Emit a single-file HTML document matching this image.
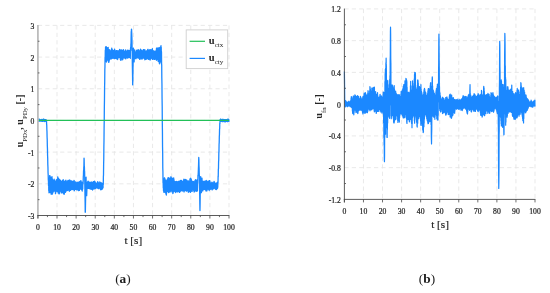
<!DOCTYPE html>
<html><head><meta charset="utf-8"><title>Figure</title>
<style>html,body{margin:0;padding:0;background:#fff;}body{width:550px;height:293px;overflow:hidden;font-family:'Liberation Serif','DejaVu Serif',serif;}svg{display:block}</style>
</head><body>
<svg width="550" height="293" viewBox="0 0 550 293" font-family="'Liberation Serif','DejaVu Serif',serif">
<line x1="57.01" y1="25.4" x2="57.01" y2="215.5" stroke="#e3e3e3" stroke-width="0.8" stroke-dasharray="4.2,3.2"/>
<line x1="76.12" y1="25.4" x2="76.12" y2="215.5" stroke="#e3e3e3" stroke-width="0.8" stroke-dasharray="4.2,3.2"/>
<line x1="95.23" y1="25.4" x2="95.23" y2="215.5" stroke="#e3e3e3" stroke-width="0.8" stroke-dasharray="4.2,3.2"/>
<line x1="114.34" y1="25.4" x2="114.34" y2="215.5" stroke="#e3e3e3" stroke-width="0.8" stroke-dasharray="4.2,3.2"/>
<line x1="133.45" y1="25.4" x2="133.45" y2="215.5" stroke="#e3e3e3" stroke-width="0.8" stroke-dasharray="4.2,3.2"/>
<line x1="152.56" y1="25.4" x2="152.56" y2="215.5" stroke="#e3e3e3" stroke-width="0.8" stroke-dasharray="4.2,3.2"/>
<line x1="171.67" y1="25.4" x2="171.67" y2="215.5" stroke="#e3e3e3" stroke-width="0.8" stroke-dasharray="4.2,3.2"/>
<line x1="190.78" y1="25.4" x2="190.78" y2="215.5" stroke="#e3e3e3" stroke-width="0.8" stroke-dasharray="4.2,3.2"/>
<line x1="209.89" y1="25.4" x2="209.89" y2="215.5" stroke="#e3e3e3" stroke-width="0.8" stroke-dasharray="4.2,3.2"/>
<line x1="229.00" y1="25.4" x2="229.00" y2="215.5" stroke="#e3e3e3" stroke-width="0.8" stroke-dasharray="4.2,3.2"/>
<line x1="37.9" y1="183.82" x2="229.0" y2="183.82" stroke="#e3e3e3" stroke-width="0.8" stroke-dasharray="4.2,3.2"/>
<line x1="37.9" y1="152.13" x2="229.0" y2="152.13" stroke="#e3e3e3" stroke-width="0.8" stroke-dasharray="4.2,3.2"/>
<line x1="37.9" y1="120.45" x2="229.0" y2="120.45" stroke="#e3e3e3" stroke-width="0.8" stroke-dasharray="4.2,3.2"/>
<line x1="37.9" y1="88.77" x2="229.0" y2="88.77" stroke="#e3e3e3" stroke-width="0.8" stroke-dasharray="4.2,3.2"/>
<line x1="37.9" y1="57.08" x2="229.0" y2="57.08" stroke="#e3e3e3" stroke-width="0.8" stroke-dasharray="4.2,3.2"/>
<line x1="37.9" y1="25.40" x2="229.0" y2="25.40" stroke="#e3e3e3" stroke-width="0.8" stroke-dasharray="4.2,3.2"/>
<line x1="363.46" y1="8.9" x2="363.46" y2="199.4" stroke="#e3e3e3" stroke-width="0.8" stroke-dasharray="4.2,3.2"/>
<line x1="382.52" y1="8.9" x2="382.52" y2="199.4" stroke="#e3e3e3" stroke-width="0.8" stroke-dasharray="4.2,3.2"/>
<line x1="401.58" y1="8.9" x2="401.58" y2="199.4" stroke="#e3e3e3" stroke-width="0.8" stroke-dasharray="4.2,3.2"/>
<line x1="420.64" y1="8.9" x2="420.64" y2="199.4" stroke="#e3e3e3" stroke-width="0.8" stroke-dasharray="4.2,3.2"/>
<line x1="439.70" y1="8.9" x2="439.70" y2="199.4" stroke="#e3e3e3" stroke-width="0.8" stroke-dasharray="4.2,3.2"/>
<line x1="458.76" y1="8.9" x2="458.76" y2="199.4" stroke="#e3e3e3" stroke-width="0.8" stroke-dasharray="4.2,3.2"/>
<line x1="477.82" y1="8.9" x2="477.82" y2="199.4" stroke="#e3e3e3" stroke-width="0.8" stroke-dasharray="4.2,3.2"/>
<line x1="496.88" y1="8.9" x2="496.88" y2="199.4" stroke="#e3e3e3" stroke-width="0.8" stroke-dasharray="4.2,3.2"/>
<line x1="515.94" y1="8.9" x2="515.94" y2="199.4" stroke="#e3e3e3" stroke-width="0.8" stroke-dasharray="4.2,3.2"/>
<line x1="535.00" y1="8.9" x2="535.00" y2="199.4" stroke="#e3e3e3" stroke-width="0.8" stroke-dasharray="4.2,3.2"/>
<line x1="344.4" y1="167.65" x2="535.0" y2="167.65" stroke="#e3e3e3" stroke-width="0.8" stroke-dasharray="4.2,3.2"/>
<line x1="344.4" y1="135.90" x2="535.0" y2="135.90" stroke="#e3e3e3" stroke-width="0.8" stroke-dasharray="4.2,3.2"/>
<line x1="344.4" y1="104.15" x2="535.0" y2="104.15" stroke="#e3e3e3" stroke-width="0.8" stroke-dasharray="4.2,3.2"/>
<line x1="344.4" y1="72.40" x2="535.0" y2="72.40" stroke="#e3e3e3" stroke-width="0.8" stroke-dasharray="4.2,3.2"/>
<line x1="344.4" y1="40.65" x2="535.0" y2="40.65" stroke="#e3e3e3" stroke-width="0.8" stroke-dasharray="4.2,3.2"/>
<line x1="344.4" y1="8.90" x2="535.0" y2="8.90" stroke="#e3e3e3" stroke-width="0.8" stroke-dasharray="4.2,3.2"/>
<path d="M37.90,119.61 L38.02,121.10 L38.14,119.56 L38.26,121.21 L38.38,119.42 L38.50,121.38 L38.62,119.41 L38.74,121.47 L38.86,119.42 L38.98,121.21 L39.10,119.47 L39.21,121.05 L39.33,119.47 L39.45,121.06 L39.57,119.52 L39.69,120.99 L39.81,119.75 L39.93,121.00 L40.05,119.77 L40.17,121.02 L40.29,119.78 L40.41,121.05 L40.53,119.81 L40.65,121.06 L40.77,119.78 L40.89,121.01 L41.01,119.75 L41.13,121.01 L41.25,119.57 L41.37,120.97 L41.49,119.43 L41.60,121.04 L41.72,119.54 L41.84,121.15 L41.96,119.69 L42.08,121.35 L42.20,119.74 L42.32,121.46 L42.44,119.86 L42.56,121.35 L42.68,119.67 L42.80,121.17 L42.92,119.52 L43.04,121.05 L43.16,119.47 L43.28,121.12 L43.40,119.49 L43.52,121.10 L43.64,119.45 L43.76,121.08 L43.88,119.39 L44.00,121.14 L44.11,119.47 L44.23,121.41 L44.35,119.61 L44.47,121.36 L44.59,119.69 L44.71,121.48 L44.83,119.71 L44.95,121.33 L45.07,119.71 L45.19,121.40 L45.31,119.86 L45.43,121.22 L45.55,119.88 L45.67,121.22 L45.79,119.76 L45.91,121.15 L46.03,119.80 L46.15,121.09 L46.27,119.80 L46.39,121.31 L46.50,120.91 L46.62,124.09 L46.74,125.13 L46.86,129.60 L46.98,131.64 L47.10,137.23 L47.22,139.64 L47.34,146.05 L47.46,148.68 L47.58,155.54 L47.70,158.12 L47.82,164.50 L47.94,167.07 L48.06,172.86 L48.18,174.82 L48.30,179.84 L48.42,180.57 L48.54,185.83 L48.66,181.60 L48.78,190.72 L48.90,179.73 L49.01,192.84 L49.13,179.33 L49.25,192.44 L49.37,177.92 L49.49,190.66 L49.61,175.74 L49.73,190.54 L49.85,176.89 L49.97,191.03 L50.09,175.99 L50.21,191.96 L50.33,177.05 L50.45,192.63 L50.57,177.36 L50.69,192.71 L50.81,178.29 L50.93,192.67 L51.05,178.64 L51.17,194.18 L51.29,179.20 L51.40,193.29 L51.52,177.15 L51.64,194.00 L51.76,177.08 L51.88,194.16 L52.00,176.76 L52.12,194.26 L52.24,178.59 L52.36,193.68 L52.48,179.64 L52.60,193.26 L52.72,181.12 L52.84,192.68 L52.96,180.84 L53.08,191.63 L53.20,181.59 L53.32,191.78 L53.44,180.81 L53.56,190.49 L53.68,180.10 L53.80,190.28 L53.91,179.75 L54.03,190.57 L54.15,179.25 L54.27,190.18 L54.39,180.17 L54.51,190.44 L54.63,180.97 L54.75,191.18 L54.87,181.71 L54.99,191.38 L55.11,181.44 L55.23,192.05 L55.35,181.18 L55.47,193.65 L55.59,181.64 L55.71,192.97 L55.83,180.92 L55.95,191.31 L56.07,180.84 L56.19,191.38 L56.30,179.89 L56.42,190.63 L56.54,180.41 L56.66,190.48 L56.78,179.47 L56.90,190.84 L57.02,180.66 L57.14,190.63 L57.26,179.51 L57.38,191.31 L57.50,179.04 L57.62,191.10 L57.74,176.79 L57.86,191.76 L57.98,177.57 L58.10,192.92 L58.22,178.48 L58.34,191.96 L58.46,179.03 L58.58,192.53 L58.70,179.89 L58.81,193.57 L58.93,178.90 L59.05,193.95 L59.17,179.56 L59.29,193.83 L59.41,179.80 L59.53,193.25 L59.65,179.81 L59.77,191.91 L59.89,179.90 L60.01,189.89 L60.13,180.03 L60.25,190.07 L60.37,180.87 L60.49,190.23 L60.61,180.50 L60.73,189.80 L60.85,181.09 L60.97,191.24 L61.09,181.42 L61.20,191.62 L61.32,181.64 L61.44,192.95 L61.56,181.49 L61.68,192.95 L61.80,181.96 L61.92,192.93 L62.04,181.15 L62.16,191.50 L62.28,181.65 L62.40,191.52 L62.52,180.33 L62.64,192.64 L62.76,180.62 L62.88,191.91 L63.00,179.89 L63.12,192.45 L63.24,179.71 L63.36,192.35 L63.48,181.32 L63.60,193.57 L63.71,181.69 L63.83,194.22 L63.95,181.67 L64.07,192.93 L64.19,181.63 L64.31,194.15 L64.43,181.12 L64.55,192.46 L64.67,181.34 L64.79,192.50 L64.91,181.68 L65.03,191.78 L65.15,181.92 L65.27,191.76 L65.39,181.57 L65.51,192.28 L65.63,180.59 L65.75,191.39 L65.87,180.18 L65.99,191.28 L66.10,180.67 L66.22,190.58 L66.34,181.45 L66.46,190.24 L66.58,182.11 L66.70,189.84 L66.82,182.49 L66.94,189.59 L67.06,182.42 L67.18,190.57 L67.30,182.44 L67.42,190.46 L67.54,181.59 L67.66,189.91 L67.78,180.62 L67.90,189.80 L68.02,180.49 L68.14,189.09 L68.26,180.43 L68.38,189.17 L68.50,180.82 L68.61,190.19 L68.73,180.90 L68.85,190.34 L68.97,181.33 L69.09,190.78 L69.21,181.43 L69.33,191.32 L69.45,180.34 L69.57,190.35 L69.69,179.82 L69.81,190.27 L69.93,181.11 L70.05,190.45 L70.17,180.53 L70.29,190.06 L70.41,180.83 L70.53,190.39 L70.65,181.55 L70.77,189.97 L70.89,181.02 L71.00,189.59 L71.12,180.66 L71.24,189.48 L71.36,181.12 L71.48,188.99 L71.60,182.00 L71.72,189.11 L71.84,182.71 L71.96,189.45 L72.08,182.18 L72.20,189.00 L72.32,182.22 L72.44,189.55 L72.56,181.44 L72.68,189.02 L72.80,181.47 L72.92,188.79 L73.04,182.01 L73.16,188.77 L73.28,181.98 L73.40,188.66 L73.51,181.66 L73.63,189.43 L73.75,181.43 L73.87,189.82 L73.99,180.28 L74.11,190.82 L74.23,180.76 L74.35,190.62 L74.47,181.86 L74.59,189.63 L74.71,182.44 L74.83,189.32 L74.95,182.14 L75.07,189.21 L75.19,182.24 L75.31,189.24 L75.43,182.13 L75.55,188.70 L75.67,181.85 L75.79,189.33 L75.90,182.60 L76.02,189.40 L76.14,183.18 L76.26,189.36 L76.38,182.97 L76.50,189.43 L76.62,182.93 L76.74,189.95 L76.86,182.59 L76.98,189.72 L77.10,182.42 L77.22,189.34 L77.34,182.31 L77.46,189.08 L77.58,182.86 L77.70,188.71 L77.82,182.45 L77.94,189.10 L78.06,182.83 L78.18,190.23 L78.30,182.74 L78.41,189.83 L78.53,182.94 L78.65,190.63 L78.77,182.16 L78.89,190.46 L79.01,181.82 L79.13,190.20 L79.25,181.66 L79.37,190.42 L79.49,182.09 L79.61,189.44 L79.73,182.35 L79.85,188.73 L79.97,182.99 L80.09,188.93 L80.21,182.00 L80.33,188.30 L80.45,181.02 L80.57,188.03 L80.69,180.80 L80.80,188.76 L80.92,180.59 L81.04,189.13 L81.16,181.93 L81.28,189.42 L81.40,182.47 L81.52,189.76 L81.64,182.53 L81.76,189.97 L81.88,182.05 L82.00,190.23 L82.12,182.42 L82.24,191.08 L82.36,182.26 L82.48,189.60 L82.60,182.44 L82.72,189.06 L82.84,181.94 L82.96,182.02 L83.08,184.05 L83.20,180.85 L83.31,176.52 L83.43,175.47 L83.55,170.64 L83.67,171.74 L83.79,166.85 L83.91,166.57 L84.03,158.14 L84.15,159.79 L84.27,166.11 L84.39,166.79 L84.51,170.79 L84.63,171.51 L84.75,180.08 L84.87,187.74 L84.99,194.96 L85.11,201.56 L85.23,212.35 L85.35,211.87 L85.47,205.45 L85.59,199.48 L85.70,191.64 L85.82,184.46 L85.94,178.71 L86.06,177.13 L86.18,184.61 L86.30,183.93 L86.42,187.64 L86.54,192.67 L86.66,195.71 L86.78,192.76 L86.90,189.56 L87.02,187.03 L87.14,185.66 L87.26,182.45 L87.38,182.81 L87.50,181.99 L87.62,185.70 L87.74,182.86 L87.86,184.68 L87.98,188.29 L88.10,181.12 L88.21,187.93 L88.33,181.50 L88.45,188.20 L88.57,182.90 L88.69,187.81 L88.81,183.43 L88.93,188.31 L89.05,182.95 L89.17,188.55 L89.29,182.62 L89.41,188.49 L89.53,182.07 L89.65,188.46 L89.77,182.45 L89.89,188.47 L90.01,182.93 L90.13,188.84 L90.25,183.22 L90.37,188.28 L90.49,182.89 L90.60,188.95 L90.72,182.64 L90.84,188.94 L90.96,182.19 L91.08,189.26 L91.20,181.93 L91.32,188.77 L91.44,182.25 L91.56,188.39 L91.68,182.59 L91.80,188.22 L91.92,182.37 L92.04,188.65 L92.16,183.09 L92.28,189.57 L92.40,183.56 L92.52,190.10 L92.64,183.40 L92.76,189.35 L92.88,182.84 L93.00,188.61 L93.11,181.83 L93.23,187.69 L93.35,181.56 L93.47,188.36 L93.59,181.82 L93.71,188.67 L93.83,182.00 L93.95,189.01 L94.07,181.45 L94.19,188.52 L94.31,181.48 L94.43,188.55 L94.55,181.27 L94.67,187.97 L94.79,181.60 L94.91,187.71 L95.03,181.87 L95.15,187.91 L95.27,182.34 L95.39,188.48 L95.50,182.86 L95.62,188.17 L95.74,183.37 L95.86,187.95 L95.98,183.58 L96.10,187.56 L96.22,183.87 L96.34,187.84 L96.46,183.50 L96.58,187.64 L96.70,183.90 L96.82,187.79 L96.94,183.80 L97.06,187.79 L97.18,182.97 L97.30,187.90 L97.42,182.46 L97.54,187.79 L97.66,181.66 L97.78,187.97 L97.90,182.24 L98.01,188.38 L98.13,182.27 L98.25,188.55 L98.37,182.81 L98.49,188.69 L98.61,182.98 L98.73,188.52 L98.85,183.44 L98.97,188.57 L99.09,183.60 L99.21,187.91 L99.33,183.48 L99.45,188.18 L99.57,183.05 L99.69,187.65 L99.81,181.82 L99.93,187.52 L100.05,182.47 L100.17,188.28 L100.29,182.76 L100.40,189.15 L100.52,182.66 L100.64,189.61 L100.76,183.11 L100.88,189.91 L101.00,182.74 L101.12,189.56 L101.24,183.22 L101.36,189.41 L101.48,183.03 L101.60,189.34 L101.72,183.05 L101.84,189.33 L101.96,183.39 L102.08,189.13 L102.20,183.44 L102.32,189.11 L102.44,183.34 L102.56,188.22 L102.68,183.19 L102.80,187.91 L102.91,183.51 L103.03,187.72 L103.15,182.92 L103.27,184.59 L103.39,176.43 L103.51,174.90 L103.63,163.82 L103.75,159.68 L103.87,146.81 L103.99,140.74 L104.11,127.31 L104.23,120.52 L104.35,106.87 L104.47,100.20 L104.59,87.01 L104.71,81.97 L104.83,69.73 L104.95,67.06 L105.07,57.35 L105.19,58.34 L105.30,50.19 L105.42,58.81 L105.54,46.94 L105.66,60.15 L105.78,47.78 L105.90,60.13 L106.02,47.55 L106.14,60.98 L106.26,46.67 L106.38,62.01 L106.50,47.44 L106.62,61.44 L106.74,48.44 L106.86,60.47 L106.98,47.60 L107.10,59.51 L107.22,48.31 L107.34,59.69 L107.46,48.52 L107.58,59.76 L107.70,47.84 L107.81,59.82 L107.93,47.56 L108.05,59.17 L108.17,47.28 L108.29,60.61 L108.41,49.35 L108.53,61.70 L108.65,50.29 L108.77,62.38 L108.89,50.15 L109.01,61.82 L109.13,50.66 L109.25,60.45 L109.37,49.64 L109.49,59.41 L109.61,50.06 L109.73,58.55 L109.85,50.41 L109.97,58.53 L110.09,50.82 L110.20,58.22 L110.32,51.10 L110.44,58.02 L110.56,51.30 L110.68,58.56 L110.80,51.62 L110.92,59.15 L111.04,50.97 L111.16,59.03 L111.28,49.58 L111.40,57.98 L111.52,49.39 L111.64,57.79 L111.76,48.10 L111.88,58.02 L112.00,49.10 L112.12,58.41 L112.24,49.51 L112.36,58.23 L112.48,50.59 L112.60,58.22 L112.71,50.18 L112.83,58.04 L112.95,51.21 L113.07,57.65 L113.19,51.19 L113.31,57.77 L113.43,50.98 L113.55,58.22 L113.67,51.12 L113.79,57.98 L113.91,50.84 L114.03,58.48 L114.15,50.33 L114.27,58.22 L114.39,49.80 L114.51,58.34 L114.63,49.15 L114.75,58.19 L114.87,50.60 L114.99,58.53 L115.10,51.04 L115.22,58.43 L115.34,51.42 L115.46,58.04 L115.58,51.65 L115.70,58.10 L115.82,51.45 L115.94,58.08 L116.06,50.58 L116.18,57.64 L116.30,51.06 L116.42,58.55 L116.54,50.66 L116.66,58.34 L116.78,50.53 L116.90,58.81 L117.02,50.82 L117.14,59.33 L117.26,50.77 L117.38,59.61 L117.50,51.67 L117.61,59.29 L117.73,51.48 L117.85,59.03 L117.97,51.62 L118.09,57.87 L118.21,50.87 L118.33,57.10 L118.45,51.15 L118.57,57.17 L118.69,50.82 L118.81,57.36 L118.93,50.75 L119.05,56.93 L119.17,50.53 L119.29,57.20 L119.41,50.12 L119.53,57.30 L119.65,49.28 L119.77,57.31 L119.89,50.11 L120.00,57.47 L120.12,50.74 L120.24,59.17 L120.36,51.24 L120.48,59.14 L120.60,51.65 L120.72,60.28 L120.84,50.59 L120.96,59.98 L121.08,49.80 L121.20,60.05 L121.32,49.80 L121.44,58.70 L121.56,50.30 L121.68,58.01 L121.80,51.44 L121.92,57.85 L122.04,52.04 L122.16,57.72 L122.28,51.19 L122.40,58.33 L122.51,50.50 L122.63,59.79 L122.75,50.45 L122.87,59.14 L122.99,50.61 L123.11,58.84 L123.23,50.48 L123.35,57.30 L123.47,49.72 L123.59,57.31 L123.71,50.54 L123.83,57.63 L123.95,51.65 L124.07,57.42 L124.19,51.95 L124.31,57.53 L124.43,51.90 L124.55,58.02 L124.67,51.63 L124.79,57.92 L124.90,51.85 L125.02,57.75 L125.14,50.87 L125.26,58.14 L125.38,50.69 L125.50,58.55 L125.62,49.85 L125.74,58.95 L125.86,50.64 L125.98,58.52 L126.10,51.07 L126.22,57.98 L126.34,51.76 L126.46,56.86 L126.58,52.18 L126.70,57.18 L126.82,51.19 L126.94,56.91 L127.06,50.88 L127.18,57.12 L127.30,50.81 L127.41,57.59 L127.53,50.48 L127.65,58.18 L127.77,50.20 L127.89,58.00 L128.01,50.18 L128.13,57.74 L128.25,50.79 L128.37,57.30 L128.49,51.05 L128.61,56.88 L128.73,51.38 L128.85,56.80 L128.97,51.00 L129.09,56.95 L129.21,50.42 L129.33,57.33 L129.45,50.76 L129.57,57.35 L129.69,50.79 L129.80,57.36 L129.92,51.53 L130.04,57.59 L130.16,51.88 L130.28,58.36 L130.40,53.29 L130.52,48.63 L130.64,47.21 L130.76,50.60 L130.88,43.91 L131.00,43.85 L131.12,36.77 L131.24,31.42 L131.36,33.10 L131.48,29.07 L131.60,29.94 L131.72,32.92 L131.84,36.38 L131.96,39.29 L132.08,46.83 L132.20,49.82 L132.31,62.20 L132.43,68.71 L132.55,75.73 L132.67,84.86 L132.79,81.67 L132.91,73.84 L133.03,66.00 L133.15,57.89 L133.27,48.53 L133.39,48.19 L133.51,48.82 L133.63,52.01 L133.75,55.51 L133.87,59.07 L133.99,60.82 L134.11,61.96 L134.23,59.23 L134.35,57.55 L134.47,53.45 L134.59,57.15 L134.70,49.97 L134.82,51.18 L134.94,52.05 L135.06,53.99 L135.18,56.25 L135.30,54.74 L135.42,51.67 L135.54,58.63 L135.66,51.88 L135.78,58.70 L135.90,51.95 L136.02,58.71 L136.14,51.57 L136.26,58.26 L136.38,51.19 L136.50,57.77 L136.62,50.31 L136.74,57.27 L136.86,50.22 L136.98,57.31 L137.10,50.03 L137.21,57.05 L137.33,51.32 L137.45,57.13 L137.57,51.55 L137.69,57.72 L137.81,50.93 L137.93,57.90 L138.05,49.93 L138.17,58.22 L138.29,49.68 L138.41,58.17 L138.53,49.86 L138.65,58.18 L138.77,50.79 L138.89,57.47 L139.01,51.48 L139.13,57.59 L139.25,51.25 L139.37,58.14 L139.49,50.95 L139.60,59.36 L139.72,51.45 L139.84,59.06 L139.96,50.42 L140.08,59.33 L140.20,50.10 L140.32,58.75 L140.44,49.20 L140.56,58.27 L140.68,49.73 L140.80,57.63 L140.92,50.22 L141.04,57.67 L141.16,49.90 L141.28,57.53 L141.40,50.59 L141.52,57.98 L141.64,50.52 L141.76,59.06 L141.88,50.63 L142.00,59.16 L142.11,50.91 L142.23,58.79 L142.35,51.21 L142.47,57.59 L142.59,51.41 L142.71,57.32 L142.83,51.26 L142.95,57.19 L143.07,50.50 L143.19,57.54 L143.31,49.59 L143.43,58.21 L143.55,49.53 L143.67,57.91 L143.79,50.42 L143.91,57.18 L144.03,50.86 L144.15,57.21 L144.27,50.89 L144.39,58.14 L144.50,50.13 L144.62,58.71 L144.74,49.60 L144.86,59.85 L144.98,49.91 L145.10,59.24 L145.22,50.88 L145.34,58.88 L145.46,51.52 L145.58,58.29 L145.70,51.73 L145.82,58.66 L145.94,51.59 L146.06,59.26 L146.18,51.67 L146.30,59.12 L146.42,51.57 L146.54,58.68 L146.66,50.84 L146.78,57.88 L146.90,50.88 L147.01,57.90 L147.13,50.90 L147.25,58.03 L147.37,50.37 L147.49,58.27 L147.61,49.71 L147.73,58.68 L147.85,49.42 L147.97,58.96 L148.09,49.52 L148.21,58.87 L148.33,51.06 L148.45,59.32 L148.57,51.90 L148.69,59.23 L148.81,50.83 L148.93,58.86 L149.05,50.55 L149.17,58.38 L149.29,50.28 L149.40,58.41 L149.52,50.10 L149.64,59.15 L149.76,49.71 L149.88,59.75 L150.00,49.83 L150.12,60.10 L150.24,50.62 L150.36,59.21 L150.48,50.55 L150.60,58.06 L150.72,49.73 L150.84,57.79 L150.96,50.52 L151.08,57.61 L151.20,50.19 L151.32,57.86 L151.44,50.88 L151.56,58.08 L151.68,50.39 L151.80,58.48 L151.91,49.64 L152.03,58.61 L152.15,49.16 L152.27,59.07 L152.39,48.73 L152.51,59.42 L152.63,50.54 L152.75,59.37 L152.87,51.11 L152.99,59.21 L153.11,51.52 L153.23,58.88 L153.35,50.85 L153.47,58.78 L153.59,50.82 L153.71,58.12 L153.83,51.21 L153.95,58.17 L154.07,51.23 L154.19,58.51 L154.30,51.37 L154.42,59.43 L154.54,51.71 L154.66,58.69 L154.78,51.46 L154.90,58.60 L155.02,51.38 L155.14,58.15 L155.26,51.75 L155.38,57.84 L155.50,51.51 L155.62,58.30 L155.74,51.07 L155.86,59.38 L155.98,50.90 L156.10,58.81 L156.22,50.22 L156.34,60.05 L156.46,48.45 L156.58,60.23 L156.70,48.14 L156.81,59.75 L156.93,47.80 L157.05,59.54 L157.17,48.31 L157.29,58.12 L157.41,48.80 L157.53,58.08 L157.65,48.25 L157.77,59.54 L157.89,48.93 L158.01,59.94 L158.13,50.48 L158.25,61.49 L158.37,49.64 L158.49,59.83 L158.61,49.06 L158.73,59.79 L158.85,47.74 L158.97,59.43 L159.09,48.23 L159.20,62.10 L159.32,47.86 L159.44,63.70 L159.56,47.93 L159.68,63.73 L159.80,48.20 L159.92,62.68 L160.04,47.95 L160.16,61.87 L160.28,47.25 L160.40,61.02 L160.52,47.05 L160.64,61.74 L160.76,47.39 L160.88,60.65 L161.00,45.70 L161.12,61.26 L161.24,47.38 L161.36,59.80 L161.48,51.77 L161.60,63.80 L161.71,64.98 L161.83,78.00 L161.95,83.77 L162.07,98.63 L162.19,106.09 L162.31,122.77 L162.43,130.23 L162.55,146.95 L162.67,152.81 L162.79,167.94 L162.91,171.53 L163.03,182.74 L163.15,182.29 L163.27,188.03 L163.39,182.44 L163.51,190.85 L163.63,179.04 L163.75,192.22 L163.87,179.45 L163.99,190.35 L164.10,178.83 L164.22,190.72 L164.34,177.93 L164.46,191.96 L164.58,177.92 L164.70,192.35 L164.82,178.42 L164.94,191.96 L165.06,179.62 L165.18,191.54 L165.30,179.77 L165.42,191.91 L165.54,181.36 L165.66,192.36 L165.78,181.21 L165.90,193.92 L166.02,181.63 L166.14,193.90 L166.26,180.83 L166.38,195.04 L166.50,180.78 L166.61,192.88 L166.73,180.88 L166.85,191.69 L166.97,179.88 L167.09,190.28 L167.21,180.04 L167.33,190.38 L167.45,179.06 L167.57,190.92 L167.69,178.92 L167.81,191.41 L167.93,178.00 L168.05,191.56 L168.17,178.01 L168.29,191.93 L168.41,177.92 L168.53,192.61 L168.65,177.81 L168.77,191.81 L168.89,177.53 L169.00,192.09 L169.12,178.33 L169.24,192.17 L169.36,178.51 L169.48,191.70 L169.60,179.45 L169.72,190.85 L169.84,180.58 L169.96,189.73 L170.08,180.50 L170.20,190.38 L170.32,179.69 L170.44,190.83 L170.56,178.15 L170.68,191.29 L170.80,176.92 L170.92,191.87 L171.04,177.02 L171.16,190.54 L171.28,177.58 L171.40,190.76 L171.51,178.80 L171.63,189.94 L171.75,178.25 L171.87,190.16 L171.99,178.30 L172.11,190.18 L172.23,178.04 L172.35,191.11 L172.47,178.53 L172.59,192.34 L172.71,179.73 L172.83,193.55 L172.95,179.70 L173.07,193.27 L173.19,179.84 L173.31,192.30 L173.43,178.31 L173.55,190.27 L173.67,177.82 L173.79,190.10 L173.90,179.05 L174.02,190.09 L174.14,180.71 L174.26,190.47 L174.38,181.52 L174.50,190.91 L174.62,182.29 L174.74,191.41 L174.86,182.18 L174.98,191.27 L175.10,181.56 L175.22,191.92 L175.34,181.96 L175.46,191.88 L175.58,182.39 L175.70,192.50 L175.82,181.70 L175.94,191.34 L176.06,182.05 L176.18,191.28 L176.30,182.16 L176.41,191.32 L176.53,181.52 L176.65,191.24 L176.77,181.61 L176.89,190.75 L177.01,182.03 L177.13,191.79 L177.25,181.66 L177.37,191.92 L177.49,181.93 L177.61,191.93 L177.73,182.34 L177.85,190.64 L177.97,182.17 L178.09,190.83 L178.21,182.04 L178.33,190.07 L178.45,181.44 L178.57,190.95 L178.69,181.30 L178.80,191.41 L178.92,181.21 L179.04,191.61 L179.16,181.72 L179.28,192.23 L179.40,182.17 L179.52,192.40 L179.64,181.82 L179.76,191.58 L179.88,181.92 L180.00,191.76 L180.12,181.00 L180.24,191.35 L180.36,180.39 L180.48,191.21 L180.60,181.20 L180.72,191.17 L180.84,181.73 L180.96,191.00 L181.08,182.30 L181.20,190.63 L181.31,181.61 L181.43,190.25 L181.55,180.45 L181.67,189.79 L181.79,180.57 L181.91,190.16 L182.03,181.11 L182.15,190.07 L182.27,181.72 L182.39,190.54 L182.51,182.17 L182.63,191.05 L182.75,181.87 L182.87,190.24 L182.99,182.01 L183.11,190.01 L183.23,182.02 L183.35,190.60 L183.47,181.34 L183.59,190.36 L183.70,179.65 L183.82,191.32 L183.94,179.19 L184.06,191.97 L184.18,179.37 L184.30,190.97 L184.42,180.50 L184.54,190.70 L184.66,181.16 L184.78,189.79 L184.90,180.16 L185.02,190.42 L185.14,179.63 L185.26,190.41 L185.38,180.03 L185.50,189.77 L185.62,179.74 L185.74,190.21 L185.86,179.37 L185.98,190.56 L186.10,180.46 L186.21,191.18 L186.33,181.00 L186.45,191.16 L186.57,181.00 L186.69,191.19 L186.81,180.37 L186.93,190.20 L187.05,180.49 L187.17,190.40 L187.29,181.52 L187.41,190.23 L187.53,181.48 L187.65,189.81 L187.77,182.12 L187.89,190.72 L188.01,181.17 L188.13,190.87 L188.25,181.57 L188.37,192.28 L188.49,180.81 L188.60,191.06 L188.72,181.43 L188.84,190.49 L188.96,181.65 L189.08,189.86 L189.20,182.47 L189.32,189.83 L189.44,181.50 L189.56,191.59 L189.68,180.80 L189.80,191.67 L189.92,179.01 L190.04,191.26 L190.16,179.62 L190.28,192.26 L190.40,179.62 L190.52,192.27 L190.64,178.20 L190.76,190.92 L190.88,178.80 L191.00,190.89 L191.11,178.88 L191.23,190.10 L191.35,179.55 L191.47,189.91 L191.59,180.57 L191.71,190.21 L191.83,180.91 L191.95,191.40 L192.07,182.39 L192.19,191.18 L192.31,182.29 L192.43,190.01 L192.55,182.21 L192.67,189.90 L192.79,182.03 L192.91,189.09 L193.03,181.49 L193.15,189.13 L193.27,181.63 L193.39,189.21 L193.50,181.72 L193.62,190.15 L193.74,181.75 L193.86,191.11 L193.98,182.02 L194.10,191.91 L194.22,182.50 L194.34,191.97 L194.46,182.32 L194.58,190.92 L194.70,181.60 L194.82,191.22 L194.94,180.72 L195.06,189.97 L195.18,180.09 L195.30,190.18 L195.42,180.56 L195.54,190.75 L195.66,179.53 L195.78,190.61 L195.90,180.35 L196.01,190.47 L196.13,180.47 L196.25,190.51 L196.37,181.24 L196.49,191.14 L196.61,181.76 L196.73,191.30 L196.85,181.08 L196.97,191.13 L197.09,180.01 L197.21,190.65 L197.33,179.58 L197.45,190.83 L197.57,186.72 L197.69,182.48 L197.81,183.23 L197.93,176.26 L198.05,175.73 L198.17,174.18 L198.29,172.10 L198.40,168.84 L198.52,166.01 L198.64,161.70 L198.76,157.45 L198.88,159.29 L199.00,165.55 L199.12,168.03 L199.24,173.33 L199.36,175.96 L199.48,179.50 L199.60,188.06 L199.72,196.15 L199.84,204.82 L199.96,210.49 L200.08,205.00 L200.20,195.26 L200.32,191.70 L200.44,184.47 L200.56,179.64 L200.68,176.64 L200.80,177.63 L200.91,184.01 L201.03,186.53 L201.15,190.33 L201.27,190.73 L201.39,192.68 L201.51,191.09 L201.63,189.73 L201.75,188.00 L201.87,183.27 L201.99,178.18 L202.11,183.30 L202.23,181.13 L202.35,183.17 L202.47,186.23 L202.59,185.84 L202.71,190.90 L202.83,181.64 L202.95,190.21 L203.07,181.16 L203.19,189.17 L203.30,181.37 L203.42,188.83 L203.54,182.19 L203.66,189.41 L203.78,182.39 L203.90,189.40 L204.02,182.63 L204.14,189.12 L204.26,182.15 L204.38,189.15 L204.50,181.36 L204.62,189.26 L204.74,181.21 L204.86,189.51 L204.98,181.91 L205.10,189.61 L205.22,181.59 L205.34,189.81 L205.46,181.73 L205.58,190.00 L205.70,180.97 L205.81,190.04 L205.93,181.26 L206.05,191.03 L206.17,180.48 L206.29,190.83 L206.41,180.58 L206.53,190.68 L206.65,181.19 L206.77,190.92 L206.89,180.93 L207.01,190.80 L207.13,181.32 L207.25,189.53 L207.37,182.03 L207.49,189.21 L207.61,182.83 L207.73,188.93 L207.85,182.06 L207.97,188.63 L208.09,181.61 L208.20,188.31 L208.32,181.88 L208.44,188.95 L208.56,181.56 L208.68,189.51 L208.80,181.20 L208.92,189.74 L209.04,180.76 L209.16,190.58 L209.28,181.37 L209.40,189.60 L209.52,180.67 L209.64,189.65 L209.76,180.59 L209.88,189.00 L210.00,181.67 L210.12,189.14 L210.24,182.55 L210.36,189.36 L210.48,183.20 L210.60,189.15 L210.71,183.38 L210.83,188.62 L210.95,183.39 L211.07,188.56 L211.19,183.36 L211.31,188.31 L211.43,183.00 L211.55,188.82 L211.67,182.56 L211.79,189.34 L211.91,182.20 L212.03,189.82 L212.15,182.39 L212.27,189.83 L212.39,182.73 L212.51,188.86 L212.63,183.00 L212.75,188.17 L212.87,183.10 L212.99,188.06 L213.10,183.20 L213.22,188.26 L213.34,182.97 L213.46,188.85 L213.58,182.86 L213.70,188.28 L213.82,182.06 L213.94,188.30 L214.06,181.47 L214.18,187.91 L214.30,181.82 L214.42,188.18 L214.54,182.46 L214.66,187.88 L214.78,182.94 L214.90,188.22 L215.02,183.04 L215.14,188.64 L215.26,183.34 L215.38,188.87 L215.50,183.37 L215.61,189.31 L215.73,183.63 L215.85,189.02 L215.97,183.59 L216.09,189.54 L216.21,183.27 L216.33,189.52 L216.45,183.49 L216.57,189.39 L216.69,183.16 L216.81,189.02 L216.93,182.89 L217.05,188.41 L217.17,182.61 L217.29,188.33 L217.41,183.02 L217.53,188.28 L217.65,183.14 L217.77,187.12 L217.89,181.03 L218.00,182.95 L218.12,175.89 L218.24,176.67 L218.36,168.99 L218.48,168.80 L218.60,161.30 L218.72,160.50 L218.84,152.71 L218.96,151.43 L219.08,144.24 L219.20,142.67 L219.32,136.15 L219.44,134.97 L219.56,129.10 L219.68,128.51 L219.80,123.24 L219.92,123.84 L220.04,120.00 L220.16,121.59 L220.28,119.31 L220.40,121.33 L220.51,119.14 L220.63,121.19 L220.75,119.09 L220.87,121.23 L220.99,119.34 L221.11,121.14 L221.23,119.30 L221.35,121.27 L221.47,119.54 L221.59,121.33 L221.71,119.65 L221.83,121.35 L221.95,119.67 L222.07,121.51 L222.19,119.68 L222.31,121.51 L222.43,119.54 L222.55,121.63 L222.67,119.51 L222.79,121.72 L222.90,119.47 L223.02,121.60 L223.14,119.43 L223.26,121.47 L223.38,119.60 L223.50,121.38 L223.62,119.70 L223.74,121.15 L223.86,119.67 L223.98,121.29 L224.10,119.71 L224.22,121.38 L224.34,119.73 L224.46,121.57 L224.58,119.66 L224.70,121.78 L224.82,119.74 L224.94,121.81 L225.06,119.56 L225.18,121.68 L225.30,119.59 L225.41,121.78 L225.53,119.57 L225.65,121.51 L225.77,119.54 L225.89,121.52 L226.01,119.62 L226.13,121.33 L226.25,119.68 L226.37,121.33 L226.49,119.61 L226.61,121.12 L226.73,119.69 L226.85,121.22 L226.97,119.69 L227.09,121.33 L227.21,119.41 L227.33,121.43 L227.45,119.29 L227.57,121.68 L227.69,119.24 L227.80,121.45 L227.92,119.44 L228.04,121.25 L228.16,119.32 L228.28,121.27 L228.40,119.39 L228.52,121.35 L228.64,119.52 L228.76,121.45 L228.88,119.57 L229.00,121.50" fill="none" stroke="#1b88ff" stroke-width="1.3" stroke-linejoin="round"/>
<line x1="37.9" y1="120.45" x2="229.0" y2="120.45" stroke="#22c058" stroke-width="1.2"/>
<path d="M344.40,71.61 L344.52,79.38 L344.64,90.19 L344.76,102.99 L344.88,101.07 L345.00,106.65 L345.12,101.91 L345.23,106.74 L345.35,101.07 L345.47,106.70 L345.59,100.71 L345.71,106.78 L345.83,100.89 L345.95,106.15 L346.07,101.84 L346.19,105.99 L346.31,102.62 L346.43,105.64 L346.55,102.24 L346.66,105.55 L346.78,102.07 L346.90,105.41 L347.02,101.83 L347.14,105.70 L347.26,102.24 L347.38,106.33 L347.50,102.35 L347.62,106.63 L347.74,102.57 L347.86,106.18 L347.98,102.45 L348.10,105.83 L348.21,102.58 L348.33,105.65 L348.45,101.92 L348.57,105.73 L348.69,101.31 L348.81,105.98 L348.93,101.15 L349.05,105.80 L349.17,101.85 L349.29,105.70 L349.41,102.27 L349.53,105.62 L349.64,102.48 L349.76,105.80 L349.88,102.34 L350.00,106.27 L350.12,101.97 L350.24,106.67 L350.36,101.56 L350.48,106.46 L350.60,100.89 L350.72,106.11 L350.84,100.01 L350.96,106.58 L351.08,98.10 L351.19,107.11 L351.31,96.62 L351.43,107.32 L351.55,96.89 L351.67,107.35 L351.79,98.77 L351.91,107.60 L352.03,99.79 L352.15,108.19 L352.27,99.81 L352.39,110.87 L352.51,99.20 L352.62,113.28 L352.74,98.69 L352.86,113.59 L352.98,97.38 L353.10,113.58 L353.22,96.13 L353.34,113.11 L353.46,96.10 L353.58,113.38 L353.70,96.40 L353.82,114.80 L353.94,96.65 L354.06,112.68 L354.17,96.32 L354.29,110.94 L354.41,96.09 L354.53,110.11 L354.65,96.26 L354.77,108.92 L354.89,94.87 L355.01,108.17 L355.13,95.09 L355.25,108.41 L355.37,95.38 L355.49,109.84 L355.60,97.31 L355.72,110.93 L355.84,99.28 L355.96,112.58 L356.08,99.24 L356.20,112.37 L356.32,97.67 L356.44,112.01 L356.56,96.42 L356.68,112.23 L356.80,96.97 L356.92,112.14 L357.04,96.32 L357.15,111.13 L357.27,96.36 L357.39,112.13 L357.51,95.71 L357.63,113.17 L357.75,96.80 L357.87,113.54 L357.99,96.36 L358.11,112.33 L358.23,97.05 L358.35,111.03 L358.47,96.36 L358.58,109.30 L358.70,98.16 L358.82,108.74 L358.94,99.41 L359.06,108.05 L359.18,99.82 L359.30,108.91 L359.42,99.98 L359.54,110.15 L359.66,100.21 L359.78,110.07 L359.90,98.59 L360.02,109.30 L360.13,97.81 L360.25,108.92 L360.37,96.35 L360.49,109.04 L360.61,97.39 L360.73,109.70 L360.85,97.17 L360.97,110.32 L361.09,98.03 L361.21,109.87 L361.33,99.20 L361.45,109.99 L361.56,99.41 L361.68,109.93 L361.80,99.30 L361.92,109.98 L362.04,99.47 L362.16,110.79 L362.28,99.34 L362.40,111.89 L362.52,98.73 L362.64,113.11 L362.76,97.38 L362.88,113.97 L363.00,96.35 L363.11,113.57 L363.23,97.52 L363.35,112.48 L363.47,98.32 L363.59,112.17 L363.71,97.25 L363.83,111.25 L363.95,94.48 L364.07,110.42 L364.19,93.15 L364.31,110.18 L364.43,95.13 L364.54,112.07 L364.66,96.65 L364.78,113.33 L364.90,96.24 L365.02,112.73 L365.14,94.30 L365.26,112.92 L365.38,92.53 L365.50,112.90 L365.62,93.31 L365.74,112.39 L365.86,96.30 L365.98,112.31 L366.09,98.22 L366.21,111.82 L366.33,96.71 L366.45,111.56 L366.57,96.13 L366.69,110.47 L366.81,94.91 L366.93,111.26 L367.05,95.85 L367.17,112.75 L367.29,97.78 L367.41,112.77 L367.52,95.39 L367.64,111.77 L367.76,93.01 L367.88,111.06 L368.00,90.67 L368.12,109.70 L368.24,91.26 L368.36,108.94 L368.48,93.76 L368.60,108.17 L368.72,93.68 L368.84,108.75 L368.96,94.71 L369.07,108.48 L369.19,95.28 L369.31,108.89 L369.43,94.31 L369.55,109.85 L369.67,90.84 L369.79,110.22 L369.91,86.71 L370.03,110.84 L370.15,87.58 L370.27,109.63 L370.39,89.32 L370.50,109.55 L370.62,92.21 L370.74,109.26 L370.86,92.88 L370.98,109.19 L371.10,95.15 L371.22,109.73 L371.34,93.80 L371.46,109.46 L371.58,90.78 L371.70,109.84 L371.82,88.00 L371.94,109.28 L372.05,89.36 L372.17,108.92 L372.29,92.29 L372.41,108.53 L372.53,92.72 L372.65,108.81 L372.77,89.39 L372.89,108.55 L373.01,87.85 L373.13,108.61 L373.25,87.42 L373.37,108.39 L373.48,92.79 L373.60,108.32 L373.72,94.51 L373.84,108.81 L373.96,92.69 L374.08,110.14 L374.20,87.53 L374.32,111.79 L374.44,87.17 L374.56,111.73 L374.68,91.84 L374.80,110.88 L374.92,95.69 L375.03,109.88 L375.15,95.78 L375.27,109.55 L375.39,93.11 L375.51,109.96 L375.63,91.57 L375.75,111.32 L375.87,93.18 L375.99,111.66 L376.11,94.62 L376.23,113.44 L376.35,96.59 L376.46,112.46 L376.58,95.53 L376.70,111.28 L376.82,94.66 L376.94,110.97 L377.06,94.77 L377.18,111.44 L377.30,94.82 L377.42,110.97 L377.54,92.63 L377.66,111.30 L377.78,95.52 L377.90,111.05 L378.01,96.50 L378.13,110.76 L378.25,98.41 L378.37,110.33 L378.49,97.84 L378.61,110.57 L378.73,97.99 L378.85,111.50 L378.97,97.71 L379.09,109.45 L379.21,97.55 L379.33,108.20 L379.44,97.84 L379.56,107.64 L379.68,96.41 L379.80,107.94 L379.92,94.55 L380.04,108.24 L380.16,94.42 L380.28,109.89 L380.40,96.15 L380.52,110.83 L380.64,97.17 L380.76,111.95 L380.88,97.81 L380.99,111.51 L381.11,97.29 L381.23,109.66 L381.35,95.74 L381.47,109.55 L381.59,96.82 L381.71,111.50 L381.83,97.29 L381.95,113.09 L382.07,97.16 L382.19,111.97 L382.31,98.00 L382.42,109.61 L382.54,97.66 L382.66,108.48 L382.78,96.99 L382.90,108.00 L383.02,94.67 L383.14,108.62 L383.26,92.02 L383.38,114.23 L383.50,92.44 L383.62,123.12 L383.74,92.34 L383.86,137.51 L383.97,101.31 L384.09,144.93 L384.21,135.70 L384.33,159.68 L384.45,161.64 L384.57,156.04 L384.69,120.90 L384.81,137.14 L384.93,81.60 L385.05,128.40 L385.17,73.49 L385.29,129.31 L385.40,69.21 L385.52,134.22 L385.64,68.24 L385.76,119.26 L385.88,62.82 L386.00,71.10 L386.12,58.19 L386.24,63.88 L386.36,66.39 L386.48,99.93 L386.60,79.53 L386.72,128.09 L386.84,84.08 L386.95,137.17 L387.07,86.55 L387.19,137.48 L387.31,85.33 L387.43,129.15 L387.55,83.69 L387.67,123.11 L387.79,80.60 L387.91,117.57 L388.03,84.77 L388.15,116.99 L388.27,90.01 L388.38,115.40 L388.50,91.42 L388.62,115.53 L388.74,91.51 L388.86,115.75 L388.98,93.20 L389.10,115.95 L389.22,88.02 L389.34,116.28 L389.46,83.96 L389.58,118.30 L389.70,79.37 L389.82,115.74 L389.93,75.63 L390.05,100.04 L390.17,59.75 L390.29,55.92 L390.41,32.12 L390.53,27.17 L390.65,33.17 L390.77,59.37 L390.89,63.29 L391.01,104.97 L391.13,85.53 L391.25,118.65 L391.36,90.73 L391.48,116.94 L391.60,92.44 L391.72,115.64 L391.84,88.08 L391.96,115.53 L392.08,84.85 L392.20,114.11 L392.32,85.26 L392.44,115.20 L392.56,85.64 L392.68,114.95 L392.79,87.66 L392.91,115.12 L393.03,89.21 L393.15,117.26 L393.27,91.00 L393.39,119.00 L393.51,92.71 L393.63,122.19 L393.75,90.16 L393.87,122.95 L393.99,86.72 L394.11,122.98 L394.23,85.49 L394.34,122.00 L394.46,88.98 L394.58,119.93 L394.70,91.06 L394.82,116.48 L394.94,91.51 L395.06,117.63 L395.18,91.66 L395.30,118.54 L395.42,91.62 L395.54,119.71 L395.66,91.09 L395.77,118.31 L395.89,92.70 L396.01,119.05 L396.13,93.51 L396.25,116.33 L396.37,93.69 L396.49,113.38 L396.61,94.76 L396.73,112.83 L396.85,96.07 L396.97,112.58 L397.09,96.51 L397.21,113.06 L397.32,96.72 L397.44,115.97 L397.56,96.14 L397.68,120.52 L397.80,94.49 L397.92,122.48 L398.04,94.60 L398.16,120.65 L398.28,95.31 L398.40,116.55 L398.52,97.42 L398.64,115.53 L398.75,96.85 L398.87,118.64 L398.99,95.90 L399.11,120.77 L399.23,94.52 L399.35,122.09 L399.47,95.39 L399.59,117.73 L399.71,97.41 L399.83,115.75 L399.95,98.19 L400.07,114.80 L400.19,97.43 L400.30,113.63 L400.42,97.92 L400.54,112.94 L400.66,96.35 L400.78,113.32 L400.90,94.19 L401.02,112.85 L401.14,91.41 L401.26,112.95 L401.38,91.90 L401.50,112.61 L401.62,93.40 L401.73,114.34 L401.85,94.06 L401.97,114.37 L402.09,92.70 L402.21,114.06 L402.33,89.95 L402.45,115.69 L402.57,90.07 L402.69,115.04 L402.81,88.97 L402.93,116.67 L403.05,88.17 L403.17,117.79 L403.28,86.36 L403.40,117.88 L403.52,86.17 L403.64,117.59 L403.76,84.72 L403.88,116.44 L404.00,86.69 L404.12,117.21 L404.24,87.08 L404.36,117.62 L404.48,86.13 L404.60,117.39 L404.71,84.10 L404.83,117.67 L404.95,80.79 L405.07,117.04 L405.19,83.25 L405.31,115.07 L405.43,84.97 L405.55,110.99 L405.67,82.09 L405.79,93.34 L405.91,78.44 L406.03,80.71 L406.15,78.54 L406.26,107.74 L406.38,79.55 L406.50,118.14 L406.62,80.11 L406.74,122.15 L406.86,81.50 L406.98,123.41 L407.10,87.33 L407.22,118.74 L407.34,91.94 L407.46,114.41 L407.58,95.40 L407.69,114.91 L407.81,94.39 L407.93,119.37 L408.05,93.87 L408.17,119.77 L408.29,94.25 L408.41,119.70 L408.53,92.31 L408.65,119.37 L408.77,92.46 L408.89,118.44 L409.01,92.56 L409.13,119.01 L409.24,93.93 L409.36,121.81 L409.48,93.40 L409.60,121.65 L409.72,94.09 L409.84,119.51 L409.96,94.08 L410.08,116.91 L410.20,90.92 L410.32,116.44 L410.44,85.97 L410.56,118.56 L410.67,81.36 L410.79,117.08 L410.91,86.04 L411.03,119.68 L411.15,89.90 L411.27,119.28 L411.39,94.47 L411.51,123.18 L411.63,93.68 L411.75,123.51 L411.87,93.42 L411.99,127.70 L412.11,90.18 L412.22,123.71 L412.34,85.51 L412.46,117.67 L412.58,80.85 L412.70,116.76 L412.82,83.37 L412.94,115.52 L413.06,88.31 L413.18,113.69 L413.30,89.67 L413.42,113.55 L413.54,90.19 L413.65,113.75 L413.77,89.31 L413.89,113.71 L414.01,85.86 L414.13,117.33 L414.25,78.88 L414.37,120.79 L414.49,74.62 L414.61,123.27 L414.73,72.37 L414.85,117.98 L414.97,76.68 L415.09,96.46 L415.20,72.96 L415.32,72.72 L415.44,75.17 L415.56,101.59 L415.68,85.15 L415.80,113.30 L415.92,87.15 L416.04,116.17 L416.16,89.36 L416.28,120.00 L416.40,92.94 L416.52,122.05 L416.63,92.93 L416.75,122.82 L416.87,93.05 L416.99,126.22 L417.11,90.74 L417.23,127.08 L417.35,88.17 L417.47,123.17 L417.59,80.21 L417.71,123.23 L417.83,79.93 L417.95,120.08 L418.07,80.70 L418.18,117.87 L418.30,83.13 L418.42,115.77 L418.54,86.04 L418.66,116.58 L418.78,91.39 L418.90,118.28 L419.02,92.74 L419.14,117.29 L419.26,90.57 L419.38,116.12 L419.50,86.60 L419.61,116.47 L419.73,87.27 L419.85,115.14 L419.97,88.13 L420.09,113.58 L420.21,90.23 L420.33,114.69 L420.45,89.65 L420.57,120.99 L420.69,87.84 L420.81,124.65 L420.93,84.69 L421.05,125.44 L421.16,89.16 L421.28,124.02 L421.40,91.35 L421.52,119.50 L421.64,91.95 L421.76,119.78 L421.88,92.85 L422.00,117.43 L422.12,94.00 L422.24,119.22 L422.36,95.37 L422.48,125.94 L422.59,95.93 L422.71,130.01 L422.83,96.06 L422.95,129.67 L423.07,95.84 L423.19,132.57 L423.31,95.54 L423.43,132.10 L423.55,94.30 L423.67,127.11 L423.79,91.93 L423.91,126.83 L424.03,90.05 L424.14,123.31 L424.26,89.21 L424.38,119.31 L424.50,88.34 L424.62,114.68 L424.74,89.29 L424.86,113.22 L424.98,90.99 L425.10,112.78 L425.22,91.84 L425.34,113.40 L425.46,93.43 L425.57,113.58 L425.69,92.30 L425.81,114.93 L425.93,93.48 L426.05,115.66 L426.17,94.92 L426.29,116.64 L426.41,96.58 L426.53,116.69 L426.65,98.25 L426.77,118.74 L426.89,97.71 L427.01,119.31 L427.12,96.93 L427.24,120.73 L427.36,95.34 L427.48,120.77 L427.60,93.53 L427.72,122.21 L427.84,91.20 L427.96,123.73 L428.08,89.70 L428.20,121.99 L428.32,88.61 L428.44,123.46 L428.55,88.57 L428.67,122.41 L428.79,89.15 L428.91,118.42 L429.03,93.24 L429.15,116.74 L429.27,93.90 L429.39,116.78 L429.51,92.61 L429.63,119.56 L429.75,88.88 L429.87,121.61 L429.99,88.20 L430.10,118.74 L430.22,85.63 L430.34,117.34 L430.46,83.31 L430.58,117.68 L430.70,82.55 L430.82,120.14 L430.94,86.14 L431.06,124.57 L431.18,106.35 L431.30,136.73 L431.42,140.10 L431.53,144.01 L431.65,134.26 L431.77,129.59 L431.89,100.92 L432.01,105.27 L432.13,79.94 L432.25,76.95 L432.37,77.77 L432.49,99.92 L432.61,85.97 L432.73,114.86 L432.85,89.25 L432.97,116.27 L433.08,90.42 L433.20,116.23 L433.32,90.35 L433.44,116.33 L433.56,92.05 L433.68,117.08 L433.80,91.81 L433.92,116.72 L434.04,93.76 L434.16,114.89 L434.28,93.25 L434.40,116.74 L434.51,93.66 L434.63,117.40 L434.75,94.82 L434.87,119.33 L434.99,95.66 L435.11,116.61 L435.23,95.51 L435.35,114.69 L435.47,95.89 L435.59,112.01 L435.71,95.08 L435.83,112.92 L435.95,91.84 L436.06,112.12 L436.18,90.03 L436.30,113.95 L436.42,88.58 L436.54,115.87 L436.66,90.08 L436.78,118.38 L436.90,88.42 L437.02,118.87 L437.14,86.55 L437.26,119.80 L437.38,84.17 L437.49,119.08 L437.61,86.47 L437.73,119.94 L437.85,87.52 L437.97,120.03 L438.09,92.08 L438.21,115.23 L438.33,87.35 L438.45,101.94 L438.57,70.33 L438.69,63.04 L438.81,40.61 L438.93,33.99 L439.04,38.35 L439.16,57.56 L439.28,66.33 L439.40,95.09 L439.52,86.76 L439.64,109.05 L439.76,92.04 L439.88,110.43 L440.00,93.21 L440.12,110.50 L440.24,95.30 L440.36,111.33 L440.47,96.30 L440.59,111.99 L440.71,98.69 L440.83,111.76 L440.95,99.22 L441.07,109.83 L441.19,99.64 L441.31,108.84 L441.43,99.74 L441.55,109.00 L441.67,99.01 L441.79,109.32 L441.91,98.86 L442.02,110.08 L442.14,98.17 L442.26,111.56 L442.38,97.40 L442.50,113.56 L442.62,97.37 L442.74,113.37 L442.86,97.54 L442.98,111.82 L443.10,98.57 L443.22,110.68 L443.34,99.17 L443.45,111.66 L443.57,99.05 L443.69,112.26 L443.81,98.47 L443.93,112.84 L444.05,98.94 L444.17,112.24 L444.29,100.28 L444.41,110.94 L444.53,100.50 L444.65,110.49 L444.77,100.72 L444.89,111.91 L445.00,100.98 L445.12,111.26 L445.24,100.41 L445.36,112.90 L445.48,99.25 L445.60,114.39 L445.72,97.48 L445.84,115.14 L445.96,97.56 L446.08,113.68 L446.20,98.16 L446.32,114.23 L446.43,97.87 L446.55,113.39 L446.67,97.58 L446.79,112.18 L446.91,96.90 L447.03,110.77 L447.15,97.84 L447.27,110.69 L447.39,98.64 L447.51,110.22 L447.63,99.50 L447.75,110.60 L447.87,99.53 L447.98,112.39 L448.10,99.70 L448.22,114.53 L448.34,99.53 L448.46,114.17 L448.58,99.28 L448.70,114.45 L448.82,99.32 L448.94,113.33 L449.06,99.23 L449.18,112.92 L449.30,96.70 L449.41,112.78 L449.53,94.95 L449.65,113.31 L449.77,95.45 L449.89,114.74 L450.01,94.76 L450.13,116.89 L450.25,93.99 L450.37,116.46 L450.49,95.31 L450.61,116.64 L450.73,97.58 L450.85,116.39 L450.96,97.79 L451.08,117.75 L451.20,96.07 L451.32,118.37 L451.44,95.04 L451.56,117.94 L451.68,95.03 L451.80,116.92 L451.92,97.21 L452.04,115.45 L452.16,98.11 L452.28,114.16 L452.39,97.97 L452.51,114.54 L452.63,98.28 L452.75,115.61 L452.87,98.52 L452.99,114.52 L453.11,98.00 L453.23,112.84 L453.35,97.72 L453.47,112.43 L453.59,98.80 L453.71,111.78 L453.83,99.18 L453.94,112.21 L454.06,100.07 L454.18,112.50 L454.30,99.83 L454.42,113.17 L454.54,99.68 L454.66,113.14 L454.78,100.13 L454.90,111.36 L455.02,99.97 L455.14,108.91 L455.26,99.89 L455.37,107.86 L455.49,100.15 L455.61,108.59 L455.73,100.09 L455.85,108.98 L455.97,100.10 L456.09,108.72 L456.21,100.36 L456.33,108.91 L456.45,99.69 L456.57,109.17 L456.69,100.10 L456.81,108.22 L456.92,100.37 L457.04,107.51 L457.16,100.88 L457.28,107.12 L457.40,100.26 L457.52,108.16 L457.64,99.56 L457.76,108.67 L457.88,99.01 L458.00,108.74 L458.12,99.89 L458.24,108.51 L458.35,100.95 L458.47,108.54 L458.59,101.46 L458.71,109.28 L458.83,100.99 L458.95,109.15 L459.07,100.73 L459.19,109.53 L459.31,100.45 L459.43,108.86 L459.55,100.04 L459.67,107.74 L459.79,99.25 L459.90,107.57 L460.02,99.89 L460.14,107.78 L460.26,100.64 L460.38,107.88 L460.50,100.97 L460.62,108.79 L460.74,100.63 L460.86,110.05 L460.98,100.30 L461.10,110.11 L461.22,99.87 L461.33,109.75 L461.45,99.12 L461.57,108.62 L461.69,99.13 L461.81,108.65 L461.93,98.66 L462.05,109.23 L462.17,98.73 L462.29,110.59 L462.41,98.62 L462.53,109.58 L462.65,97.43 L462.77,108.88 L462.88,96.70 L463.00,108.44 L463.12,95.70 L463.24,108.09 L463.36,97.00 L463.48,108.26 L463.60,96.12 L463.72,107.87 L463.84,97.72 L463.96,107.81 L464.08,99.11 L464.20,107.83 L464.31,99.46 L464.43,107.94 L464.55,97.76 L464.67,107.83 L464.79,96.75 L464.91,107.79 L465.03,96.30 L465.15,108.13 L465.27,97.08 L465.39,108.77 L465.51,97.55 L465.63,109.10 L465.75,97.14 L465.86,108.60 L465.98,96.48 L466.10,108.50 L466.22,96.65 L466.34,109.03 L466.46,97.92 L466.58,110.54 L466.70,98.93 L466.82,112.07 L466.94,99.05 L467.06,112.87 L467.18,98.12 L467.29,113.48 L467.41,97.64 L467.53,114.00 L467.65,97.38 L467.77,111.70 L467.89,96.64 L468.01,109.19 L468.13,96.13 L468.25,108.53 L468.37,95.19 L468.49,108.63 L468.61,95.50 L468.73,108.70 L468.84,94.39 L468.96,109.13 L469.08,94.82 L469.20,109.24 L469.32,94.28 L469.44,110.35 L469.56,95.93 L469.68,108.44 L469.80,91.56 L469.92,88.48 L470.04,84.55 L470.16,94.22 L470.27,93.37 L470.39,109.41 L470.51,96.30 L470.63,109.70 L470.75,95.14 L470.87,110.36 L470.99,97.24 L471.11,111.54 L471.23,97.47 L471.35,111.99 L471.47,97.43 L471.59,111.47 L471.71,97.88 L471.82,110.49 L471.94,97.41 L472.06,109.64 L472.18,96.81 L472.30,109.17 L472.42,96.10 L472.54,108.63 L472.66,96.33 L472.78,108.81 L472.90,97.49 L473.02,108.71 L473.14,98.61 L473.25,109.46 L473.37,96.70 L473.49,109.88 L473.61,95.12 L473.73,111.15 L473.85,94.93 L473.97,109.85 L474.09,93.68 L474.21,108.88 L474.33,94.92 L474.45,108.04 L474.57,94.03 L474.69,109.90 L474.80,94.49 L474.92,110.92 L475.04,94.91 L475.16,111.47 L475.28,95.46 L475.40,111.47 L475.52,97.34 L475.64,110.02 L475.76,97.94 L475.88,109.05 L476.00,97.20 L476.12,109.12 L476.23,97.07 L476.35,108.27 L476.47,96.46 L476.59,107.96 L476.71,97.36 L476.83,108.33 L476.95,98.52 L477.07,108.30 L477.19,97.75 L477.31,109.17 L477.43,95.43 L477.55,110.87 L477.67,95.23 L477.78,111.00 L477.90,94.61 L478.02,111.34 L478.14,93.57 L478.26,111.62 L478.38,94.13 L478.50,110.13 L478.62,96.76 L478.74,109.99 L478.86,98.32 L478.98,109.40 L479.10,98.24 L479.21,109.46 L479.33,96.79 L479.45,109.47 L479.57,95.49 L479.69,109.86 L479.81,95.33 L479.93,110.99 L480.05,94.50 L480.17,110.71 L480.29,95.53 L480.41,113.06 L480.53,97.32 L480.65,114.74 L480.76,98.61 L480.88,115.50 L481.00,96.60 L481.12,115.11 L481.24,93.76 L481.36,113.39 L481.48,90.36 L481.60,113.43 L481.72,91.23 L481.84,114.88 L481.96,94.00 L482.08,117.11 L482.19,94.87 L482.31,116.69 L482.43,95.79 L482.55,114.94 L482.67,95.38 L482.79,114.87 L482.91,95.39 L483.03,114.49 L483.15,96.34 L483.27,114.79 L483.39,94.84 L483.51,102.49 L483.63,87.45 L483.74,86.41 L483.86,87.30 L483.98,105.18 L484.10,88.18 L484.22,114.21 L484.34,91.38 L484.46,115.70 L484.58,94.75 L484.70,115.56 L484.82,94.81 L484.94,113.36 L485.06,95.25 L485.17,112.55 L485.29,95.20 L485.41,113.04 L485.53,95.84 L485.65,112.49 L485.77,96.48 L485.89,113.74 L486.01,97.14 L486.13,111.55 L486.25,95.95 L486.37,110.71 L486.49,94.66 L486.61,109.14 L486.72,94.91 L486.84,109.39 L486.96,95.72 L487.08,109.25 L487.20,97.02 L487.32,109.90 L487.44,94.72 L487.56,111.22 L487.68,94.26 L487.80,113.37 L487.92,93.29 L488.04,112.65 L488.15,94.46 L488.27,110.27 L488.39,95.19 L488.51,109.76 L488.63,95.14 L488.75,110.81 L488.87,94.46 L488.99,111.70 L489.11,94.46 L489.23,111.85 L489.35,96.09 L489.47,113.36 L489.58,97.05 L489.70,113.19 L489.82,98.07 L489.94,111.91 L490.06,98.97 L490.18,111.15 L490.30,99.07 L490.42,110.52 L490.54,97.76 L490.66,108.99 L490.78,95.25 L490.90,108.34 L491.02,92.71 L491.13,108.56 L491.25,93.55 L491.37,109.74 L491.49,93.35 L491.61,111.53 L491.73,93.65 L491.85,110.89 L491.97,94.22 L492.09,111.44 L492.21,96.03 L492.33,110.75 L492.45,95.84 L492.56,109.55 L492.68,94.43 L492.80,109.02 L492.92,92.58 L493.04,109.01 L493.16,93.80 L493.28,111.08 L493.40,95.00 L493.52,112.22 L493.64,95.91 L493.76,111.37 L493.88,96.51 L494.00,111.07 L494.11,96.87 L494.23,109.34 L494.35,96.47 L494.47,108.99 L494.59,97.27 L494.71,108.24 L494.83,98.17 L494.95,108.22 L495.07,98.34 L495.19,107.96 L495.31,97.78 L495.43,108.04 L495.54,97.51 L495.66,108.15 L495.78,97.51 L495.90,108.65 L496.02,97.10 L496.14,109.17 L496.26,97.76 L496.38,109.91 L496.50,97.51 L496.62,110.33 L496.74,98.33 L496.86,111.62 L496.98,97.99 L497.09,112.51 L497.21,97.19 L497.33,113.55 L497.45,96.35 L497.57,112.41 L497.69,95.90 L497.81,110.81 L497.93,96.21 L498.05,111.58 L498.17,101.19 L498.29,124.95 L498.41,128.96 L498.52,160.23 L498.64,176.32 L498.76,188.42 L498.88,182.65 L499.00,168.93 L499.12,134.98 L499.24,130.74 L499.36,88.28 L499.48,80.58 L499.60,50.15 L499.72,41.36 L499.84,44.68 L499.96,66.90 L500.07,71.71 L500.19,104.57 L500.31,85.08 L500.43,116.63 L500.55,85.22 L500.67,117.44 L500.79,82.80 L500.91,120.45 L501.03,80.30 L501.15,124.04 L501.27,79.91 L501.39,125.99 L501.50,81.31 L501.62,124.87 L501.74,83.83 L501.86,125.36 L501.98,85.55 L502.10,125.55 L502.22,85.47 L502.34,126.05 L502.46,84.73 L502.58,127.35 L502.70,84.92 L502.82,123.69 L502.94,84.76 L503.05,122.80 L503.17,84.72 L503.29,120.16 L503.41,89.10 L503.53,119.24 L503.65,107.22 L503.77,129.93 L503.89,134.88 L504.01,134.38 L504.13,118.38 L504.25,116.78 L504.37,86.83 L504.48,89.28 L504.60,55.61 L504.72,46.75 L504.84,33.34 L504.96,36.16 L505.08,43.82 L505.20,76.67 L505.32,65.80 L505.44,114.01 L505.56,77.42 L505.68,125.24 L505.80,79.65 L505.92,122.32 L506.03,86.27 L506.15,117.33 L506.27,90.21 L506.39,114.92 L506.51,92.76 L506.63,115.66 L506.75,93.67 L506.87,116.60 L506.99,93.76 L507.11,117.26 L507.23,90.58 L507.35,116.03 L507.46,87.39 L507.58,113.44 L507.70,86.51 L507.82,113.25 L507.94,86.88 L508.06,113.52 L508.18,88.91 L508.30,112.21 L508.42,92.66 L508.54,112.10 L508.66,91.89 L508.78,111.11 L508.90,92.78 L509.01,110.87 L509.13,91.73 L509.25,111.49 L509.37,90.11 L509.49,111.98 L509.61,91.69 L509.73,111.48 L509.85,92.12 L509.97,111.36 L510.09,93.33 L510.21,111.16 L510.33,91.49 L510.44,110.53 L510.56,89.50 L510.68,111.28 L510.80,89.19 L510.92,112.09 L511.04,90.90 L511.16,112.41 L511.28,92.84 L511.40,110.75 L511.52,91.21 L511.64,90.59 L511.76,85.11 L511.88,92.15 L511.99,91.24 L512.11,110.64 L512.23,93.93 L512.35,115.35 L512.47,92.69 L512.59,116.21 L512.71,91.60 L512.83,116.36 L512.95,94.71 L513.07,116.17 L513.19,96.26 L513.31,115.46 L513.42,97.06 L513.54,117.11 L513.66,95.11 L513.78,118.36 L513.90,93.48 L514.02,119.19 L514.14,95.42 L514.26,116.28 L514.38,96.49 L514.50,114.03 L514.62,97.30 L514.74,115.12 L514.86,96.25 L514.97,117.71 L515.09,94.59 L515.21,119.47 L515.33,93.70 L515.45,118.82 L515.57,92.67 L515.69,115.97 L515.81,92.75 L515.93,114.34 L516.05,93.12 L516.17,115.09 L516.29,93.73 L516.40,115.65 L516.52,95.24 L516.64,117.88 L516.76,93.14 L516.88,117.78 L517.00,90.38 L517.12,117.68 L517.24,88.39 L517.36,116.79 L517.48,89.68 L517.60,115.56 L517.72,91.31 L517.84,113.16 L517.95,91.71 L518.07,113.79 L518.19,90.11 L518.31,113.92 L518.43,90.04 L518.55,113.47 L518.67,91.75 L518.79,114.38 L518.91,95.08 L519.03,116.14 L519.15,96.88 L519.27,114.73 L519.38,96.63 L519.50,111.79 L519.62,96.02 L519.74,111.48 L519.86,94.40 L519.98,112.88 L520.10,91.84 L520.22,114.19 L520.34,89.86 L520.46,112.37 L520.58,87.25 L520.70,97.73 L520.82,82.66 L520.93,83.09 L521.05,83.62 L521.17,104.08 L521.29,85.89 L521.41,110.91 L521.53,90.12 L521.65,112.67 L521.77,88.66 L521.89,114.29 L522.01,88.77 L522.13,115.36 L522.25,87.85 L522.36,116.87 L522.48,90.29 L522.60,118.45 L522.72,94.35 L522.84,120.71 L522.96,96.36 L523.08,120.48 L523.20,92.18 L523.32,120.56 L523.44,88.58 L523.56,122.94 L523.68,87.71 L523.80,118.50 L523.91,90.55 L524.03,113.48 L524.15,90.21 L524.27,111.51 L524.39,92.19 L524.51,111.93 L524.63,92.00 L524.75,111.28 L524.87,94.47 L524.99,111.98 L525.11,94.58 L525.23,112.12 L525.34,96.48 L525.46,112.43 L525.58,96.01 L525.70,112.87 L525.82,95.80 L525.94,111.82 L526.06,95.04 L526.18,111.73 L526.30,96.97 L526.42,110.76 L526.54,98.40 L526.66,110.07 L526.78,98.96 L526.89,110.46 L527.01,98.45 L527.13,110.26 L527.25,98.65 L527.37,110.13 L527.49,98.89 L527.61,109.30 L527.73,99.00 L527.85,108.45 L527.97,99.67 L528.09,108.30 L528.21,99.70 L528.32,107.80 L528.44,100.41 L528.56,106.80 L528.68,100.61 L528.80,106.59 L528.92,101.14 L529.04,106.23 L529.16,101.90 L529.28,106.13 L529.40,101.91 L529.52,106.09 L529.64,102.09 L529.76,106.07 L529.87,102.34 L529.99,105.91 L530.11,102.22 L530.23,106.14 L530.35,102.18 L530.47,106.09 L530.59,101.89 L530.71,106.34 L530.83,101.26 L530.95,106.77 L531.07,100.16 L531.19,106.62 L531.30,100.50 L531.42,106.72 L531.54,101.28 L531.66,106.65 L531.78,102.06 L531.90,106.67 L532.02,102.19 L532.14,106.98 L532.26,102.28 L532.38,107.12 L532.50,102.08 L532.62,106.77 L532.74,102.02 L532.85,106.95 L532.97,102.12 L533.09,106.66 L533.21,101.81 L533.33,106.09 L533.45,101.63 L533.57,105.56 L533.69,101.21 L533.81,105.34 L533.93,101.21 L534.05,105.66 L534.17,101.16 L534.28,105.68 L534.40,100.73 L534.52,105.97 L534.64,100.50 L534.76,106.11 L534.88,100.03 L535.00,106.41" fill="none" stroke="#1b88ff" stroke-width="1.2" stroke-linejoin="round"/>
<line x1="37.9" y1="25.099999999999998" x2="37.9" y2="218.5" stroke="#bcbcbc" stroke-width="1.8"/>
<line x1="37.3" y1="215.5" x2="229.4" y2="215.5" stroke="#484848" stroke-width="0.9"/>
<line x1="37.90" y1="215.5" x2="37.90" y2="218.5" stroke="#484848" stroke-width="0.8"/>
<line x1="47.45" y1="215.5" x2="47.45" y2="217.1" stroke="#484848" stroke-width="0.8"/>
<line x1="57.01" y1="215.5" x2="57.01" y2="218.5" stroke="#484848" stroke-width="0.8"/>
<line x1="66.56" y1="215.5" x2="66.56" y2="217.1" stroke="#484848" stroke-width="0.8"/>
<line x1="76.12" y1="215.5" x2="76.12" y2="218.5" stroke="#484848" stroke-width="0.8"/>
<line x1="85.67" y1="215.5" x2="85.67" y2="217.1" stroke="#484848" stroke-width="0.8"/>
<line x1="95.23" y1="215.5" x2="95.23" y2="218.5" stroke="#484848" stroke-width="0.8"/>
<line x1="104.78" y1="215.5" x2="104.78" y2="217.1" stroke="#484848" stroke-width="0.8"/>
<line x1="114.34" y1="215.5" x2="114.34" y2="218.5" stroke="#484848" stroke-width="0.8"/>
<line x1="123.90" y1="215.5" x2="123.90" y2="217.1" stroke="#484848" stroke-width="0.8"/>
<line x1="133.45" y1="215.5" x2="133.45" y2="218.5" stroke="#484848" stroke-width="0.8"/>
<line x1="143.00" y1="215.5" x2="143.00" y2="217.1" stroke="#484848" stroke-width="0.8"/>
<line x1="152.56" y1="215.5" x2="152.56" y2="218.5" stroke="#484848" stroke-width="0.8"/>
<line x1="162.12" y1="215.5" x2="162.12" y2="217.1" stroke="#484848" stroke-width="0.8"/>
<line x1="171.67" y1="215.5" x2="171.67" y2="218.5" stroke="#484848" stroke-width="0.8"/>
<line x1="181.22" y1="215.5" x2="181.22" y2="217.1" stroke="#484848" stroke-width="0.8"/>
<line x1="190.78" y1="215.5" x2="190.78" y2="218.5" stroke="#484848" stroke-width="0.8"/>
<line x1="200.34" y1="215.5" x2="200.34" y2="217.1" stroke="#484848" stroke-width="0.8"/>
<line x1="209.89" y1="215.5" x2="209.89" y2="218.5" stroke="#484848" stroke-width="0.8"/>
<line x1="219.44" y1="215.5" x2="219.44" y2="217.1" stroke="#484848" stroke-width="0.8"/>
<line x1="229.00" y1="215.5" x2="229.00" y2="218.5" stroke="#484848" stroke-width="0.8"/>
<text x="37.90" y="229.90" text-anchor="middle" font-size="7.7" stroke="#262626" stroke-width="0.22" fill="#262626">0</text>
<text x="57.01" y="229.90" text-anchor="middle" font-size="7.7" stroke="#262626" stroke-width="0.22" fill="#262626">10</text>
<text x="76.12" y="229.90" text-anchor="middle" font-size="7.7" stroke="#262626" stroke-width="0.22" fill="#262626">20</text>
<text x="95.23" y="229.90" text-anchor="middle" font-size="7.7" stroke="#262626" stroke-width="0.22" fill="#262626">30</text>
<text x="114.34" y="229.90" text-anchor="middle" font-size="7.7" stroke="#262626" stroke-width="0.22" fill="#262626">40</text>
<text x="133.45" y="229.90" text-anchor="middle" font-size="7.7" stroke="#262626" stroke-width="0.22" fill="#262626">50</text>
<text x="152.56" y="229.90" text-anchor="middle" font-size="7.7" stroke="#262626" stroke-width="0.22" fill="#262626">60</text>
<text x="171.67" y="229.90" text-anchor="middle" font-size="7.7" stroke="#262626" stroke-width="0.22" fill="#262626">70</text>
<text x="190.78" y="229.90" text-anchor="middle" font-size="7.7" stroke="#262626" stroke-width="0.22" fill="#262626">80</text>
<text x="209.89" y="229.90" text-anchor="middle" font-size="7.7" stroke="#262626" stroke-width="0.22" fill="#262626">90</text>
<text x="229.00" y="229.90" text-anchor="middle" font-size="7.7" stroke="#262626" stroke-width="0.22" fill="#262626">100</text>
<text x="34.30" y="219.00" text-anchor="end" font-size="7.7" stroke="#262626" stroke-width="0.22" fill="#262626">-3</text>
<line x1="37.9" y1="199.66" x2="39.5" y2="199.66" stroke="#484848" stroke-width="0.8"/>
<text x="34.30" y="187.32" text-anchor="end" font-size="7.7" stroke="#262626" stroke-width="0.22" fill="#262626">-2</text>
<line x1="37.9" y1="167.97" x2="39.5" y2="167.97" stroke="#484848" stroke-width="0.8"/>
<text x="34.30" y="155.63" text-anchor="end" font-size="7.7" stroke="#262626" stroke-width="0.22" fill="#262626">-1</text>
<line x1="37.9" y1="136.29" x2="39.5" y2="136.29" stroke="#484848" stroke-width="0.8"/>
<text x="34.30" y="123.95" text-anchor="end" font-size="7.7" stroke="#262626" stroke-width="0.22" fill="#262626">0</text>
<line x1="37.9" y1="104.61" x2="39.5" y2="104.61" stroke="#484848" stroke-width="0.8"/>
<text x="34.30" y="92.27" text-anchor="end" font-size="7.7" stroke="#262626" stroke-width="0.22" fill="#262626">1</text>
<line x1="37.9" y1="72.93" x2="39.5" y2="72.93" stroke="#484848" stroke-width="0.8"/>
<text x="34.30" y="60.58" text-anchor="end" font-size="7.7" stroke="#262626" stroke-width="0.22" fill="#262626">2</text>
<line x1="37.9" y1="41.24" x2="39.5" y2="41.24" stroke="#484848" stroke-width="0.8"/>
<text x="34.30" y="28.90" text-anchor="end" font-size="7.7" stroke="#262626" stroke-width="0.22" fill="#262626">3</text>
<line x1="344.4" y1="8.6" x2="344.4" y2="202.4" stroke="#4a4a4a" stroke-width="0.9"/>
<line x1="343.79999999999995" y1="199.4" x2="535.4" y2="199.4" stroke="#484848" stroke-width="0.9"/>
<line x1="344.40" y1="199.4" x2="344.40" y2="202.4" stroke="#484848" stroke-width="0.8"/>
<line x1="363.46" y1="199.4" x2="363.46" y2="202.4" stroke="#484848" stroke-width="0.8"/>
<line x1="382.52" y1="199.4" x2="382.52" y2="202.4" stroke="#484848" stroke-width="0.8"/>
<line x1="401.58" y1="199.4" x2="401.58" y2="202.4" stroke="#484848" stroke-width="0.8"/>
<line x1="420.64" y1="199.4" x2="420.64" y2="202.4" stroke="#484848" stroke-width="0.8"/>
<line x1="439.70" y1="199.4" x2="439.70" y2="202.4" stroke="#484848" stroke-width="0.8"/>
<line x1="458.76" y1="199.4" x2="458.76" y2="202.4" stroke="#484848" stroke-width="0.8"/>
<line x1="477.82" y1="199.4" x2="477.82" y2="202.4" stroke="#484848" stroke-width="0.8"/>
<line x1="496.88" y1="199.4" x2="496.88" y2="202.4" stroke="#484848" stroke-width="0.8"/>
<line x1="515.94" y1="199.4" x2="515.94" y2="202.4" stroke="#484848" stroke-width="0.8"/>
<line x1="535.00" y1="199.4" x2="535.00" y2="202.4" stroke="#484848" stroke-width="0.8"/>
<text x="344.40" y="213.80" text-anchor="middle" font-size="7.7" stroke="#262626" stroke-width="0.22" fill="#262626">0</text>
<text x="363.46" y="213.80" text-anchor="middle" font-size="7.7" stroke="#262626" stroke-width="0.22" fill="#262626">10</text>
<text x="382.52" y="213.80" text-anchor="middle" font-size="7.7" stroke="#262626" stroke-width="0.22" fill="#262626">20</text>
<text x="401.58" y="213.80" text-anchor="middle" font-size="7.7" stroke="#262626" stroke-width="0.22" fill="#262626">30</text>
<text x="420.64" y="213.80" text-anchor="middle" font-size="7.7" stroke="#262626" stroke-width="0.22" fill="#262626">40</text>
<text x="439.70" y="213.80" text-anchor="middle" font-size="7.7" stroke="#262626" stroke-width="0.22" fill="#262626">50</text>
<text x="458.76" y="213.80" text-anchor="middle" font-size="7.7" stroke="#262626" stroke-width="0.22" fill="#262626">60</text>
<text x="477.82" y="213.80" text-anchor="middle" font-size="7.7" stroke="#262626" stroke-width="0.22" fill="#262626">70</text>
<text x="496.88" y="213.80" text-anchor="middle" font-size="7.7" stroke="#262626" stroke-width="0.22" fill="#262626">80</text>
<text x="515.94" y="213.80" text-anchor="middle" font-size="7.7" stroke="#262626" stroke-width="0.22" fill="#262626">90</text>
<text x="535.00" y="213.80" text-anchor="middle" font-size="7.7" stroke="#262626" stroke-width="0.22" fill="#262626">100</text>
<text x="340.80" y="202.90" text-anchor="end" font-size="7.7" stroke="#262626" stroke-width="0.22" fill="#262626">-1.2</text>
<line x1="344.4" y1="183.53" x2="346.0" y2="183.53" stroke="#484848" stroke-width="0.8"/>
<text x="340.80" y="171.15" text-anchor="end" font-size="7.7" stroke="#262626" stroke-width="0.22" fill="#262626">-0.8</text>
<line x1="344.4" y1="151.78" x2="346.0" y2="151.78" stroke="#484848" stroke-width="0.8"/>
<text x="340.80" y="139.40" text-anchor="end" font-size="7.7" stroke="#262626" stroke-width="0.22" fill="#262626">-0.4</text>
<line x1="344.4" y1="120.03" x2="346.0" y2="120.03" stroke="#484848" stroke-width="0.8"/>
<text x="340.80" y="107.65" text-anchor="end" font-size="7.7" stroke="#262626" stroke-width="0.22" fill="#262626">0</text>
<line x1="344.4" y1="88.28" x2="346.0" y2="88.28" stroke="#484848" stroke-width="0.8"/>
<text x="340.80" y="75.90" text-anchor="end" font-size="7.7" stroke="#262626" stroke-width="0.22" fill="#262626">0.4</text>
<line x1="344.4" y1="56.52" x2="346.0" y2="56.52" stroke="#484848" stroke-width="0.8"/>
<text x="340.80" y="44.15" text-anchor="end" font-size="7.7" stroke="#262626" stroke-width="0.22" fill="#262626">0.8</text>
<line x1="344.4" y1="24.77" x2="346.0" y2="24.77" stroke="#484848" stroke-width="0.8"/>
<text x="340.80" y="12.40" text-anchor="end" font-size="7.7" stroke="#262626" stroke-width="0.22" fill="#262626">1.2</text>
<rect x="186.2" y="29.9" width="41.5" height="38.7" fill="#fff" stroke="#cfcfcf" stroke-width="0.9"/>
<line x1="189.6" y1="41.3" x2="205" y2="41.3" stroke="#22c058" stroke-width="1.2"/>
<line x1="189.6" y1="58.4" x2="205" y2="58.4" stroke="#1b88ff" stroke-width="1.2"/>
<text x="208.8" y="44.0" font-size="10.5" font-weight="bold" fill="#262626">u<tspan font-size="7" font-weight="normal" dy="2.8">ctx</tspan></text>
<text x="208.8" y="61.1" font-size="10.5" font-weight="bold" fill="#262626">u<tspan font-size="7" font-weight="normal" dy="2.8">cty</tspan></text>
<text x="133.3" y="244.0" text-anchor="middle" font-size="11.2" stroke="#262626" stroke-width="0.2" fill="#262626">t [s]</text>
<text x="440" y="227.8" text-anchor="middle" font-size="11.2" stroke="#262626" stroke-width="0.2" fill="#262626">t [s]</text>
<text transform="translate(23.0,147.3) rotate(-90)" font-size="10" font-weight="bold" fill="#262626">u<tspan font-size="6.8" font-weight="normal" dy="4.2">PDx</tspan><tspan dy="-4.2">, u</tspan><tspan font-size="6.8" font-weight="normal" dy="4.2">PDy</tspan><tspan dy="-4.2"> [-]</tspan></text>
<text transform="translate(321.6,118.8) rotate(-90)" font-size="10.4" font-weight="bold" fill="#262626">u<tspan font-size="6.8" font-weight="normal" dy="4.2">fn</tspan><tspan dy="-4.2"> [-]</tspan></text>
<text x="122.9" y="283.2" text-anchor="middle" font-size="13.3" fill="#1a1a1a">(<tspan font-weight="bold">a</tspan>)</text>
<text x="427" y="283.2" text-anchor="middle" font-size="13.3" fill="#1a1a1a">(<tspan font-weight="bold">b</tspan>)</text>
</svg>
</body></html>
